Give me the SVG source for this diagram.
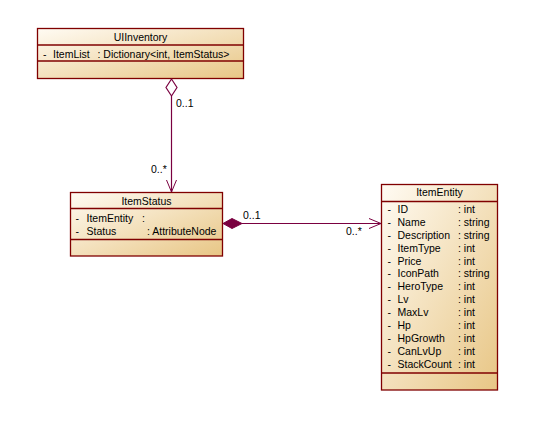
<svg xmlns="http://www.w3.org/2000/svg" width="557" height="433" viewBox="0 0 557 433">
<defs>
<linearGradient id="g" x1="0" y1="0" x2="1" y2="1">
<stop offset="0" stop-color="#fffbf3"/>
<stop offset="1" stop-color="#e8c685"/>
</linearGradient>
<marker id="open" markerWidth="14" markerHeight="12" refX="12" refY="6" orient="auto" markerUnits="userSpaceOnUse">
<path d="M0,1 L12,6 L0,11" fill="none" stroke="#7a0040" stroke-width="1"/>
</marker>
</defs>
<style>
.box{fill:url(#g);stroke:#800000;stroke-width:1.3}
.div{stroke:#800000;stroke-width:1.3}
text{font-family:"Liberation Sans",Arial,sans-serif;font-size:10.5px;fill:#000}
.t{text-anchor:middle}
.c{fill:none;stroke:#7a0040;stroke-width:1.2}
</style>
<rect width="557" height="433" fill="#fff"/>
<g id="UIInventory">
<rect class="box" x="37.5" y="28.5" width="206" height="50"/>
<line class="div" x1="37.5" y1="45" x2="243.5" y2="45"/>
<line class="div" x1="37.5" y1="61" x2="243.5" y2="61"/>
<text class="t" x="140.5" y="40.5">UIInventory</text>
<text x="43" y="57.5">-</text>
<text x="53" y="57.5">ItemList</text>
<text x="97.5" y="57.5">: Dictionary&lt;int, ItemStatus&gt;</text>
</g>
<g id="ItemStatus">
<rect class="box" x="70.5" y="192.5" width="152" height="63.5"/>
<line class="div" x1="70.5" y1="208.5" x2="222.5" y2="208.5"/>
<line class="div" x1="70.5" y1="239.5" x2="222.5" y2="239.5"/>
<text class="t" x="146.5" y="204.5">ItemStatus</text>
<text x="75.5" y="221.5">-</text>
<text x="86.5" y="221.5">ItemEntity</text>
<text x="142" y="221.5">:</text>
<text x="75.5" y="235">-</text>
<text x="86.5" y="235">Status</text>
<text x="147" y="235">: AttributeNode</text>
</g>
<g id="ItemEntity">
<rect class="box" x="381.5" y="184.5" width="116" height="205.5"/>
<line class="div" x1="381.5" y1="201.5" x2="497.5" y2="201.5"/>
<line class="div" x1="381.5" y1="373" x2="497.5" y2="373"/>
<text class="t" x="439.5" y="196">ItemEntity</text>
<g>
<text x="387.5" y="212.8">-</text><text x="397.5" y="212.8">ID</text><text x="458" y="212.8">: int</text>
<text x="387.5" y="225.7">-</text><text x="397.5" y="225.7">Name</text><text x="458" y="225.7">: string</text>
<text x="387.5" y="238.6">-</text><text x="397.5" y="238.6">Description</text><text x="458" y="238.6">: string</text>
<text x="387.5" y="251.6">-</text><text x="397.5" y="251.6">ItemType</text><text x="458" y="251.6">: int</text>
<text x="387.5" y="264.5">-</text><text x="397.5" y="264.5">Price</text><text x="458" y="264.5">: int</text>
<text x="387.5" y="277.4">-</text><text x="397.5" y="277.4">IconPath</text><text x="458" y="277.4">: string</text>
<text x="387.5" y="290.3">-</text><text x="397.5" y="290.3">HeroType</text><text x="458" y="290.3">: int</text>
<text x="387.5" y="303.2">-</text><text x="397.5" y="303.2">Lv</text><text x="458" y="303.2">: int</text>
<text x="387.5" y="316.1">-</text><text x="397.5" y="316.1">MaxLv</text><text x="458" y="316.1">: int</text>
<text x="387.5" y="329.1">-</text><text x="397.5" y="329.1">Hp</text><text x="458" y="329.1">: int</text>
<text x="387.5" y="342">-</text><text x="397.5" y="342">HpGrowth</text><text x="458" y="342">: int</text>
<text x="387.5" y="354.9">-</text><text x="397.5" y="354.9">CanLvUp</text><text x="458" y="354.9">: int</text>
<text x="387.5" y="367.8">-</text><text x="397.5" y="367.8">StackCount</text><text x="458" y="367.8">: int</text>
</g>
</g>
<g id="connectors">
<path class="c" d="M171.5,79 L177,87.5 L171.5,96 L166,87.5 Z" fill="#fff"/>
<line class="c" x1="171.5" y1="96" x2="171.5" y2="192" marker-end="url(#open)"/>
<text x="176" y="106.5">0..1</text>
<text x="151" y="172.5">0..*</text>
<path d="M223,223.5 L232,218.5 L242,223.5 L232,228.5 Z" fill="#7a0040" stroke="#7a0040" stroke-width="1"/>
<line class="c" x1="242" y1="223.5" x2="381" y2="223.5" marker-end="url(#open)"/>
<text x="243" y="219">0..1</text>
<text x="346" y="234.5">0..*</text>
</g>
</svg>
